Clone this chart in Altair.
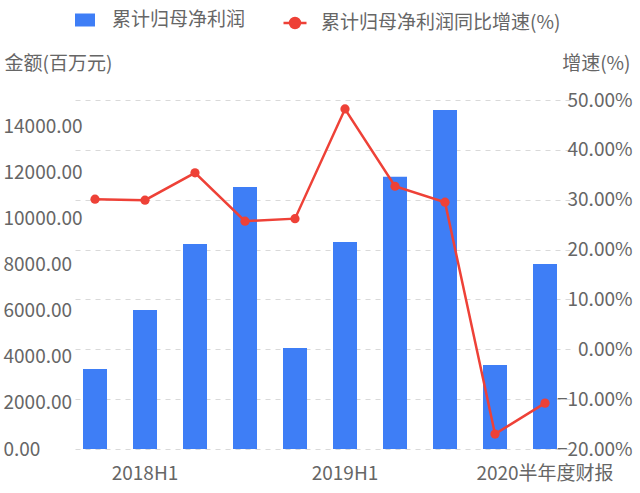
import altair as alt
import pandas as pd

# Reporting periods (cumulative)
periods = ["2018Q1", "2018H1", "2018Q3", "2018年报",
           "2019Q1", "2019H1", "2019Q3", "2019年报",
           "2020Q1", "2020半年度财报"]
# Cumulative net profit attributable to parent (million yuan)
profit = [3480, 6040, 8910, 11390, 4390, 9000, 11830, 14740, 3650, 8040]
# Year-on-year growth (%)
growth = [30.1, 29.9, 35.4, 25.7, 26.2, 48.2, 32.7, 29.5, -17.0, -10.8]

shown_labels = ["2018H1", "2019H1", "2020半年度财报"]
left_ticks = [0, 2000, 4000, 6000, 8000, 10000, 12000, 14000]
right_ticks = [-20, -10, 0, 10, 20, 30, 40, 50]

bar_name = "累计归母净利润"
line_name = "累计归母净利润同比增速(%)"

df = pd.DataFrame({
    "period": periods,
    "profit": profit,
    "growth": growth,
    "s1": bar_name,
    "s2": line_name,
})

FONT = "Noto Sans CJK SC"
GREY = "#666666"
BLUE = "#3e7ef6"
RED = "#ee4137"

x_enc = alt.X(
    "period:N", sort=periods, title=None,
    scale=alt.Scale(paddingInner=0, paddingOuter=0),
    axis=alt.Axis(
        labelExpr="indexof(" + str(shown_labels) + ", datum.value) >= 0 ? datum.value : ''",
        labelAngle=0, labelOverlap=False, ticks=False, tickSize=0, domain=False,
        labelPadding=15, labelFontSize=19, labelColor=GREY, labelFont=FONT, grid=False,
    ),
)

bars = alt.Chart(df).mark_bar(size=24).encode(
    x=x_enc,
    y=alt.Y(
        "profit:Q",
        scale=alt.Scale(domain=[0, 15170], nice=False, zero=True),
        axis=alt.Axis(
            orient="left", values=left_ticks, format=".2f", grid=False,
            domain=False, ticks=False, tickSize=0,
            labelAlign="left", labelPadding=67, labelFontSize=19,
            labelColor=GREY, labelFont=FONT,
            title="金额(百万元)", titleAngle=0, titleAlign="left",
            titleBaseline="middle", titleX=-66, titleY=-37,
            titleFontSize=19, titleFontWeight="normal", titleColor=GREY, titleFont=FONT,
        ),
    ),
    color=alt.Color(
        "s1:N", title=None,
        scale=alt.Scale(range=[BLUE]),
        legend=alt.Legend(
            orient="none", legendX=5, legendY=-90, direction="horizontal",
            symbolType="M-1,-0.65H1V0.65H-1Z", symbolSize=400, symbolStrokeWidth=0,
            labelOffset=17, labelFontSize=19, labelColor=GREY, labelFont=FONT,
            labelLimit=0, padding=0,
        ),
    ),
)

y_growth = alt.Y(
    "growth:Q",
    scale=alt.Scale(domain=[-20, 50], nice=False, zero=False),
    axis=alt.Axis(
        orient="right", values=right_ticks,
        labelExpr="format(datum.value, '.2f') + '%'",
        grid=True, gridColor="#d9d9d9", gridDash=[5, 5], gridWidth=1,
        domain=False, ticks=False, tickSize=0,
        labelAlign="right", labelPadding=62, labelFontSize=19,
        labelColor=GREY, labelFont=FONT,
        title="增速(%)", titleAngle=0, titleAlign="right",
        titleBaseline="middle", titleX=60, titleY=-37,
        titleFontSize=19, titleFontWeight="normal", titleColor=GREY, titleFont=FONT,
    ),
)

line = alt.Chart(df).mark_line(strokeWidth=2.5).encode(
    x=x_enc,
    y=y_growth,
    stroke=alt.Stroke(
        "s2:N", title=None,
        scale=alt.Scale(range=[RED]),
        legend=alt.Legend(
            orient="none", legendX=212, legendY=-90, direction="horizontal",
            symbolType="M-1,0H1M-0.43,0A0.43,0.43 0 1,0 0.43,0A0.43,0.43 0 1,0 -0.43,0Z",
            symbolSize=529, symbolStrokeWidth=2.5, symbolFillColor=RED,
            labelOffset=13, labelFontSize=19, labelColor=GREY, labelFont=FONT,
            labelLimit=0, padding=0,
        ),
    ),
)

points = alt.Chart(df).mark_circle(size=85, opacity=1, color=RED).encode(
    x=x_enc,
    y=y_growth,
)

chart = alt.layer(bars, line + points).resolve_scale(
    y="independent", color="independent", stroke="independent"
).properties(
    width=500,
    height=349,
    background="white",
    autosize=alt.AutoSizeParams(type="none"),
    padding={"left": 70, "top": 100, "right": 70, "bottom": 44},
).configure_view(stroke=None)

chart.save("out.html", embed_options={"renderer": "svg", "actions": False})
